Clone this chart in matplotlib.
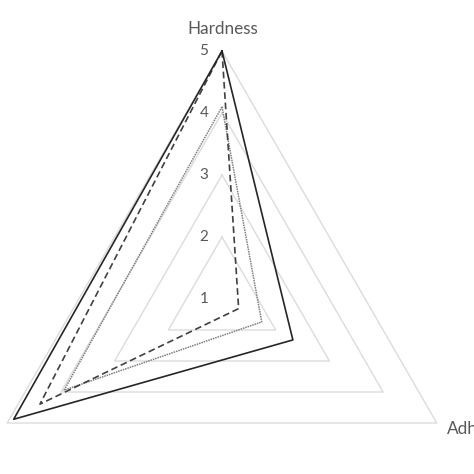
#!/usr/bin/env python3
# Triangular radar chart of texture attributes (three samples).

import numpy as np
import matplotlib.pyplot as plt

attributes = ["Hardness", "Adhesiveness", "Cohesiveness"]
levels = [1, 2, 3, 4, 5]

sample_solid = [5.0, 2.32, 4.88]
sample_dashed = [5.0, 1.31, 4.39]
sample_dotted = [4.1, 1.74, 3.94]

plt.rcParams["font.family"] = ["Lato", "DejaVu Sans"]

angles = np.deg2rad([90, -30, 210])
vmin = 1


def to_xy(values):
    r = np.asarray(values, dtype=float) - vmin
    x = r * np.cos(angles)
    y = r * np.sin(angles)
    return np.append(x, x[0]), np.append(y, y[0])


fig = plt.figure(figsize=(4.74, 4.74), dpi=100)
ax = fig.add_axes([0, 0, 1, 1])
unit = 62.0  # pixels per value step
ax.set_xlim(-222 / unit, (474 - 222) / unit)
ax.set_ylim(-(474 - 299) / unit, 299 / unit)
ax.axis("off")

# grid triangles
for lv in levels[1:]:
    gx, gy = to_xy([lv] * 3)
    ax.plot(gx, gy, color="#dcdcdc", linewidth=1.0, zorder=1)

# level labels along the top axis
for lv in levels:
    ax.text(-0.29, lv - vmin, str(lv), ha="center", va="center",
            fontsize=11, color="#595959")

# series
x, y = to_xy(sample_dotted)
ax.plot(x, y, color="#7f7f7f", linestyle=(0, (1, 0.6)), linewidth=1.1, zorder=3)
x, y = to_xy(sample_dashed)
ax.plot(x, y, color="#404040", linestyle=(0, (4, 2.2)), linewidth=1.2, zorder=3)
x, y = to_xy(sample_solid)
ax.plot(x, y, color="#262626", linestyle="-", linewidth=1.2, zorder=3)

# attribute labels
rmax = levels[-1] - vmin
ax.text(0.02, rmax + 0.36, attributes[0], ha="center", va="center",
        fontsize=12.3, color="#595959")
ax.text(rmax * np.cos(angles[1]) + 0.16, rmax * np.sin(angles[1]) - 0.1,
        attributes[1], ha="left", va="center", fontsize=12.3, color="#595959",
        clip_on=False)

fig.savefig("out.png", dpi=100, facecolor="white")
